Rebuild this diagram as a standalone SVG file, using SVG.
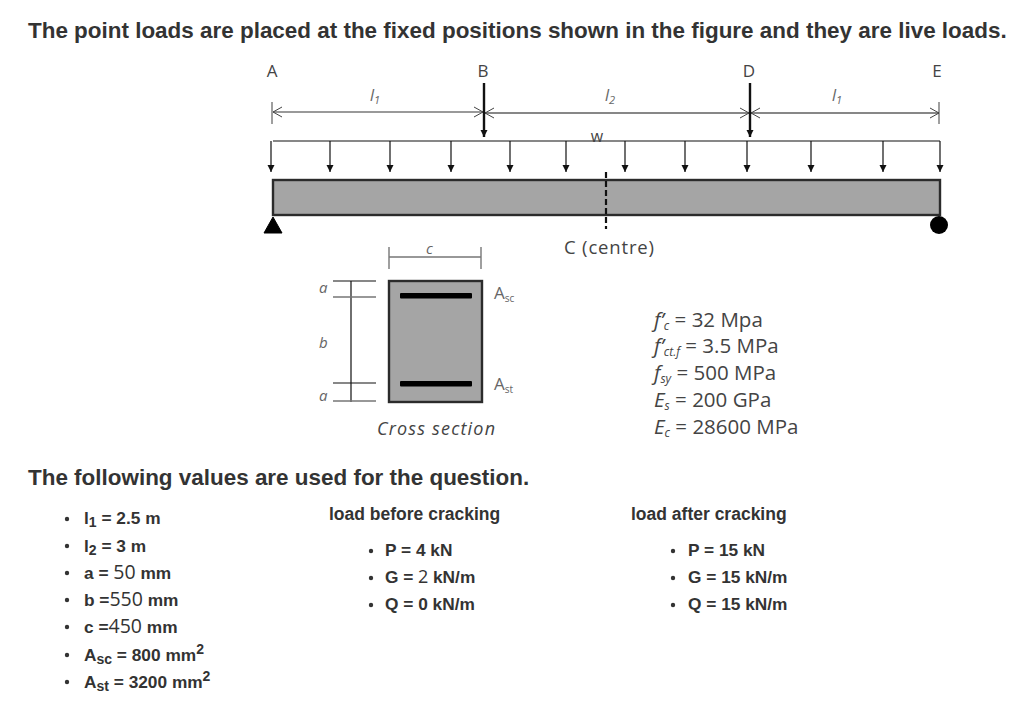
<svg xmlns="http://www.w3.org/2000/svg" width="1024" height="702" viewBox="0 0 1024 702">
<style>
.h{font:bold 22.45px "Liberation Sans",Arial,sans-serif;fill:#333}
.b{font:bold 17.3px "Liberation Sans",Arial,sans-serif;fill:#333}
.s{font-size:14px}
.o{font-family:"Open Sans",sans-serif;font-weight:400;fill:#333;font-size:19.5px}
.d{font-family:"Open Sans",sans-serif;fill:#444}
.i{font-style:italic}
.g{fill:#666}
.ln{stroke:#111;stroke-width:1.2;fill:none}
.lg{stroke:#777;stroke-width:1.4;fill:none}
.hv{stroke:#111;stroke-width:2.4;fill:none}
.beam{fill:#a5a5a5;stroke:#2b2b2b;stroke-width:2.4}
</style>
<defs>
<marker id="ah" markerUnits="userSpaceOnUse" markerWidth="8" markerHeight="8" refX="7" refY="3.5" orient="auto"><path d="M0 0L7 3.5L0 7Z" fill="#111"/></marker>
<marker id="oa" markerUnits="userSpaceOnUse" markerWidth="12" markerHeight="12" refX="10" refY="6" orient="auto-start-reverse"><path d="M1 1L10 6L1 11" fill="none" stroke="#444" stroke-width="1"/></marker>
</defs>
<text class="h" x="28" y="38">The point loads are placed at the fixed positions shown in the figure and they are live loads.</text>

<g id="beam"><rect class="beam" x="273" y="180" width="667" height="35"/></g>
<g id="support-a"><path d="M273 217L264 233H282Z" fill="#000" stroke="#000"/></g>
<g id="support-e"><circle cx="939" cy="225" r="9" fill="#000"/></g>

<g id="connectors">
<path class="lg" d="M272 102V124M939 102V124"/>
<path class="lg" d="M273 112H483" marker-start="url(#oa)" marker-end="url(#oa)"/>
<path class="ln" d="M485 113H749" marker-start="url(#oa)" marker-end="url(#oa)"/>
<path class="ln" d="M751 113H939" marker-start="url(#oa)" marker-end="url(#oa)"/>
<path class="hv" d="M484 83V137" marker-end="url(#ah)"/>
<path class="hv" d="M750 83V137" marker-end="url(#ah)"/>
<path class="ln" d="M273 141H940"/>
<g class="ln">
<path d="M271 141V172" marker-end="url(#ah)"/>
<path d="M330 141V172" marker-end="url(#ah)"/>
<path d="M390 141V172" marker-end="url(#ah)"/>
<path d="M451 141V172" marker-end="url(#ah)"/>
<path d="M510 141V172" marker-end="url(#ah)"/>
<path d="M566 141V172" marker-end="url(#ah)"/>
<path d="M625 141V172" marker-end="url(#ah)"/>
<path d="M685 141V172" marker-end="url(#ah)"/>
<path d="M747 141V172" marker-end="url(#ah)"/>
<path d="M811 141V172" marker-end="url(#ah)"/>
<path d="M883 141V172" marker-end="url(#ah)"/>
<path d="M940 141V172" marker-end="url(#ah)"/>
</g>
<path d="M606 172V229" stroke="#111" stroke-width="2.2" stroke-dasharray="6 3" fill="none"/>
<path class="lg" d="M389 247V269M481 247V269M389 257H481"/>
<path class="ln" d="M333 281H376M333 383H376M351 281V402"/>
<path class="lg" d="M333 297H376M333 401H376"/>
</g>

<g id="labels" class="d">
<text x="272" y="77" font-size="17" text-anchor="middle">A</text>
<text x="483" y="77" font-size="17" text-anchor="middle">B</text>
<text x="749" y="77" font-size="17" text-anchor="middle">D</text>
<text x="937" y="77" font-size="17" text-anchor="middle">E</text>
<text class="i g" x="370" y="101" font-size="16">l<tspan font-size="11" dy="3">1</tspan></text>
<text class="i g" x="605" y="101" font-size="16">l<tspan font-size="11" dy="3">2</tspan></text>
<text class="i g" x="832" y="101" font-size="16">l<tspan font-size="11" dy="3">1</tspan></text>
<text x="597" y="142" font-size="16" text-anchor="middle">w</text>
<text x="609" y="254" font-size="18.5" text-anchor="middle" textLength="90">C (centre)</text>
</g>

<g id="cross-section">
<rect class="beam" x="389" y="281" width="93" height="121"/>
<rect x="400" y="293" width="72" height="5.5" rx="1" fill="#000"/>
<rect x="400" y="381" width="72" height="5.5" rx="1" fill="#000"/>
<g class="d">
<text class="i g" x="426" y="254" font-size="15">c</text>
<text class="i g" x="319" y="293" font-size="15">a</text>
<text class="i g" x="319" y="348" font-size="15">b</text>
<text class="i g" x="319" y="401" font-size="15">a</text>
<text class="g" x="494" y="299" font-size="17">A<tspan font-size="10" dy="3">sc</tspan></text>
<text class="g" x="494" y="390" font-size="17">A<tspan font-size="10" dy="3">st</tspan></text>
<text class="i" x="436" y="435" font-size="18" text-anchor="middle" textLength="118">Cross section</text>
</g>
</g>

<g id="properties" class="d" font-size="20.5">
<text x="654" y="327"><tspan class="i">f’</tspan><tspan class="i" font-size="12" dy="3">c</tspan><tspan dy="-3"> = 32 Mpa</tspan></text>
<text x="654" y="353"><tspan class="i">f’</tspan><tspan class="i" font-size="12" dy="3">ct.f</tspan><tspan dy="-3"> = 3.5 MPa</tspan></text>
<text x="654" y="380"><tspan class="i">f</tspan><tspan class="i" font-size="12" dy="3">sy</tspan><tspan dy="-3"> = 500 MPa</tspan></text>
<text x="654" y="407"><tspan class="i">E</tspan><tspan class="i" font-size="12" dy="3">s</tspan><tspan dy="-3"> = 200 GPa</tspan></text>
<text x="654" y="434"><tspan class="i">E</tspan><tspan class="i" font-size="12" dy="3">c</tspan><tspan dy="-3"> = 28600 MPa</tspan></text>
</g>

<text class="h" x="28" y="485">The following values are used for the question.</text>

<g id="list-values" class="b">
<g fill="#333"><circle cx="67" cy="519" r="2.2"/><circle cx="67" cy="546" r="2.2"/><circle cx="67" cy="573" r="2.2"/><circle cx="67" cy="600" r="2.2"/><circle cx="67" cy="627" r="2.2"/><circle cx="67" cy="655" r="2.2"/><circle cx="67" cy="682" r="2.2"/></g>
<text x="84" y="524">l<tspan class="s" dy="3">1</tspan><tspan dy="-3"> = 2.5 m</tspan></text>
<text x="84" y="552">l<tspan class="s" dy="3">2</tspan><tspan dy="-3"> = 3 m</tspan></text>
<text x="84" y="579">a = <tspan class="o">50</tspan> mm</text>
<text x="84" y="606">b =<tspan class="o">550</tspan> mm</text>
<text x="84" y="633">c =<tspan class="o">450</tspan> mm</text>
<text x="84" y="661">A<tspan class="s" dy="3">sc</tspan><tspan dy="-3"> = 800 mm</tspan><tspan class="s" dy="-7">2</tspan></text>
<text x="84" y="688">A<tspan class="s" dy="3">st</tspan><tspan dy="-3"> = 3200 mm</tspan><tspan class="s" dy="-7">2</tspan></text>
</g>

<g id="list-before" class="b">
<text x="329" y="520" style="font-size:17.5px">load before cracking</text>
<g fill="#333"><circle cx="371" cy="551" r="2.2"/><circle cx="371" cy="578" r="2.2"/><circle cx="371" cy="605" r="2.2"/></g>
<text x="385" y="556">P = 4 kN</text>
<text x="385" y="583">G =<tspan class="o" style="font-size:18px"> 2 </tspan>kN/m</text>
<text x="385" y="610">Q = 0 kN/m</text>
</g>

<g id="list-after" class="b">
<text x="631" y="520" style="font-size:17.5px">load after cracking</text>
<g fill="#333"><circle cx="673" cy="551" r="2.2"/><circle cx="673" cy="578" r="2.2"/><circle cx="673" cy="605" r="2.2"/></g>
<text x="688" y="556">P = 15 kN</text>
<text x="688" y="583">G = 15 kN/m</text>
<text x="688" y="610">Q = 15 kN/m</text>
</g>
</svg>
